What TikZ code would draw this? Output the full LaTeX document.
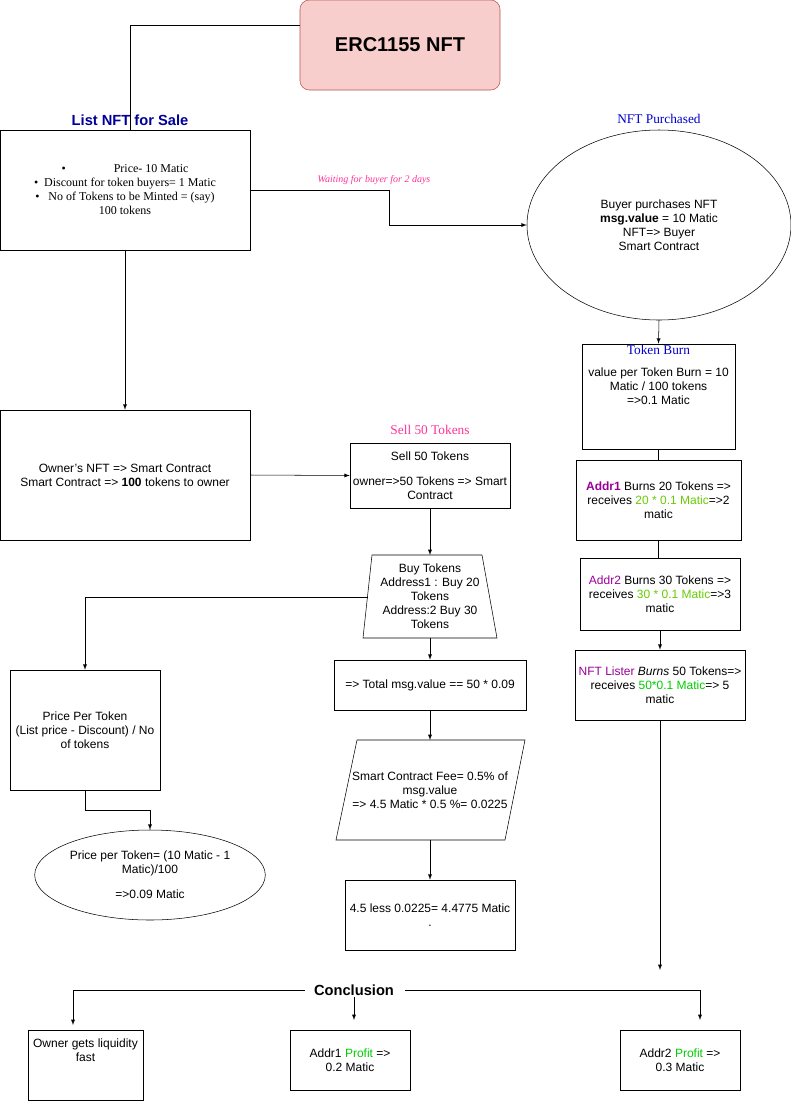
\documentclass[tikz,border=0pt]{standalone}
\usepackage{fontspec}
\setmainfont{Liberation Sans}
\newfontfamily\serif{Liberation Serif}
\usetikzlibrary{shapes.geometric}
\definecolor{ercfill}{HTML}{F8CECC}
\definecolor{ercdraw}{HTML}{B85450}
\definecolor{addrc}{HTML}{990099}
\definecolor{maticc}{HTML}{66CC00}
\definecolor{greenc}{HTML}{00CC00}
\definecolor{pinkc}{HTML}{FF3399}
\definecolor{bluec}{HTML}{0000CC}
\definecolor{navyc}{HTML}{000099}
\tikzset{
  box/.style={draw, rectangle, align=center, inner sep=1pt, font=\fontsize{9}{10.5}\selectfont},
  lbl/.style={align=center, inner sep=1pt, font=\fontsize{9}{10.5}\selectfont},
  arr/.style={-latex, thin},
}
\begin{document}
\begin{tikzpicture}[x=0.75pt, y=-0.75pt]
    \useasboundingbox (0,0) rectangle (791,1101);
    % top
    \node[draw=ercdraw, fill=ercfill, rounded corners=7pt, minimum width=150pt, minimum height=67.5pt, font=\bfseries\fontsize{15}{18}\selectfont] (erc) at (400,45) {ERC1155 NFT};
    \node[box, minimum width=187.5pt, minimum height=90pt, font=\serif\fontsize{9}{10.5}\selectfont] (list) at (125,190) {\textbullet\hspace{4em}Price- 10 Matic\hspace{3em}\\ \textbullet\ \ Discount for token buyers= 1 Matic\\ \textbullet\ \ \ No of Tokens to be Minted = (say)\\ 100 tokens};
    \node[lbl, text=navyc, font=\bfseries\fontsize{11}{13}\selectfont] (listT) at (130,120) {List NFT for Sale};
    \coordinate (listTop) at (130,130);
    \draw (erc.west |- 0,25) -| (listTop);
    % right column
    \node[draw, ellipse, minimum width=198pt, minimum height=142.5pt, lbl] (purch) at (659,225) {Buyer purchases NFT\\ \textbf{msg.value} = 10 Matic\\ NFT=> Buyer\\ Smart Contract};
    \node[lbl, text=bluec, font=\serif\fontsize{10}{12}\selectfont] (purchT) at (659,119) {NFT Purchased};
    \draw[arr] (list.east |- 0,190) -- (389,190) |- (purch.west);
    \node[lbl, text=pinkc, font=\serif\itshape\fontsize{7.5}{9}\selectfont] (wait) at (374,180) {Waiting for buyer for 2 days};
    \node[box, minimum width=114.75pt, minimum height=69.75pt] (burn) at (658.5,396.5) {{\serif\fontsize{10}{12}\selectfont\textcolor{bluec}{Token Burn}}\\[6pt] value per Token Burn = 10\\ Matic / 100 tokens\\ =>0.1 Matic\\[22pt]};
    \node[box, minimum width=123.75pt, minimum height=60pt] (addr1) at (658.5,500) {\textcolor{addrc}{\textbf{Addr1}} Burns 20 Tokens =>\\ receives \textcolor{maticc}{20 * 0.1 Matic}=>2\\ matic};
    \node[box, minimum width=120pt, minimum height=54pt] (addr2) at (660,594) {\textcolor{addrc}{Addr2} Burns 30 Tokens =>\\ receives \textcolor{maticc}{30 * 0.1 Matic}=>3\\ matic};
    \node[box, minimum width=127.5pt, minimum height=52.5pt] (lister) at (660,685) {\textcolor{addrc}{NFT Lister} \textit{Burns} 50 Tokens=>\\ receives \textcolor{greenc}{50*0.1 Matic}=> 5\\ matic};
    \coordinate (listerEnd) at (660,970);
    \draw[arr] (purch.south) -- (burn.north);
    \draw (burn.south) -- (addr1.north);
    \draw (addr1.south) -- (addr2.north -| addr1.south);
    \draw[arr] (addr2.south) -- (lister.north);
    \draw[arr] (lister.south) -- (listerEnd);
    % middle column
    \node[box, minimum width=187.5pt, minimum height=97.5pt] (owner) at (125,475) {Owner's NFT => Smart Contract\\ Smart Contract => \textbf{100} tokens to owner};
    \draw[arr] (list.south -| 125,0) -- (owner.north -| 125,0);
    \node[box, minimum width=120pt, minimum height=48.75pt] (sell) at (430,475.5) {Sell 50 Tokens\\[8pt] owner=>50 Tokens => Smart\\ Contract};
    \node[lbl, text=pinkc, font=\serif\fontsize{10}{12}\selectfont] (sellT) at (430,430) {Sell 50 Tokens};
    \draw[arr] (owner.east) -- (sell.west);
    \draw (372,555) -- (482,555) -- (497,638) -- (363,638) -- cycle;
    \node[lbl] (buy) at (430,596.5) {Buy Tokens\\ Address1 : Buy 20\\ Tokens\\ Address:2 Buy 30\\ Tokens};
    \coordinate (buyL) at (368,597);
    \draw[arr] (sell.south) -- (430,555);
    \node[box, minimum width=144pt, minimum height=37.5pt] (total) at (430,685) {=> Total msg.value == 50 * 0.09};
    \draw[arr] (430,638) -- (total.north);
    \draw (357,740) -- (525,740) -- (505,840) -- (336,840) -- cycle;
    \node[lbl] (fee) at (430,790) {Smart Contract Fee= 0.5\% of\\ msg.value\\ => 4.5 Matic * 0.5 \%= 0.0225};
    \draw[arr] (total.south) -- (430,740);
    \node[box, minimum width=127.5pt, minimum height=52.5pt] (result) at (430,915) {4.5 less 0.0225= 4.4775 Matic\\ .};
    \draw[arr] (430,840) -- (result.north);
    % left column
    \node[box, minimum width=112.5pt, minimum height=90pt] (ppt) at (85,730) {Price Per Token\\ (List price - Discount) / No\\ of tokens};
    \draw[arr] (buyL) -| (ppt.north);
    \node[draw, ellipse, minimum width=150pt, minimum height=67.5pt, lbl] (pptell) at (150,875) {Price per Token= (10 Matic - 1\\ Matic)/100\\[8pt] =>0.09 Matic};
    \draw[arr] (ppt.south) -- (85,810) -| (pptell.north);
    % conclusion
    \node[lbl, font=\bfseries\fontsize{11}{13}\selectfont] (concl) at (354,990) {Conclusion};
    \node[box, minimum width=86.25pt, minimum height=52.5pt] (liq) at (85.5,1065) {Owner gets liquidity\\ fast\\[12pt]};
    \node[box, minimum width=90pt, minimum height=45pt] (p1) at (350,1060) {Addr1 \textcolor{greenc}{Profit} =>\\ 0.2 Matic};
    \node[box, minimum width=90pt, minimum height=45pt] (p2) at (680,1060) {Addr2 \textcolor{greenc}{Profit} =>\\ 0.3 Matic};
    \draw[arr] (305,990) -| (73,1025);
    \draw[arr] (405,990) -| (700,1020);
    \draw[arr] (concl.south) -- (354,1020);
\end{tikzpicture}
\end{document}
